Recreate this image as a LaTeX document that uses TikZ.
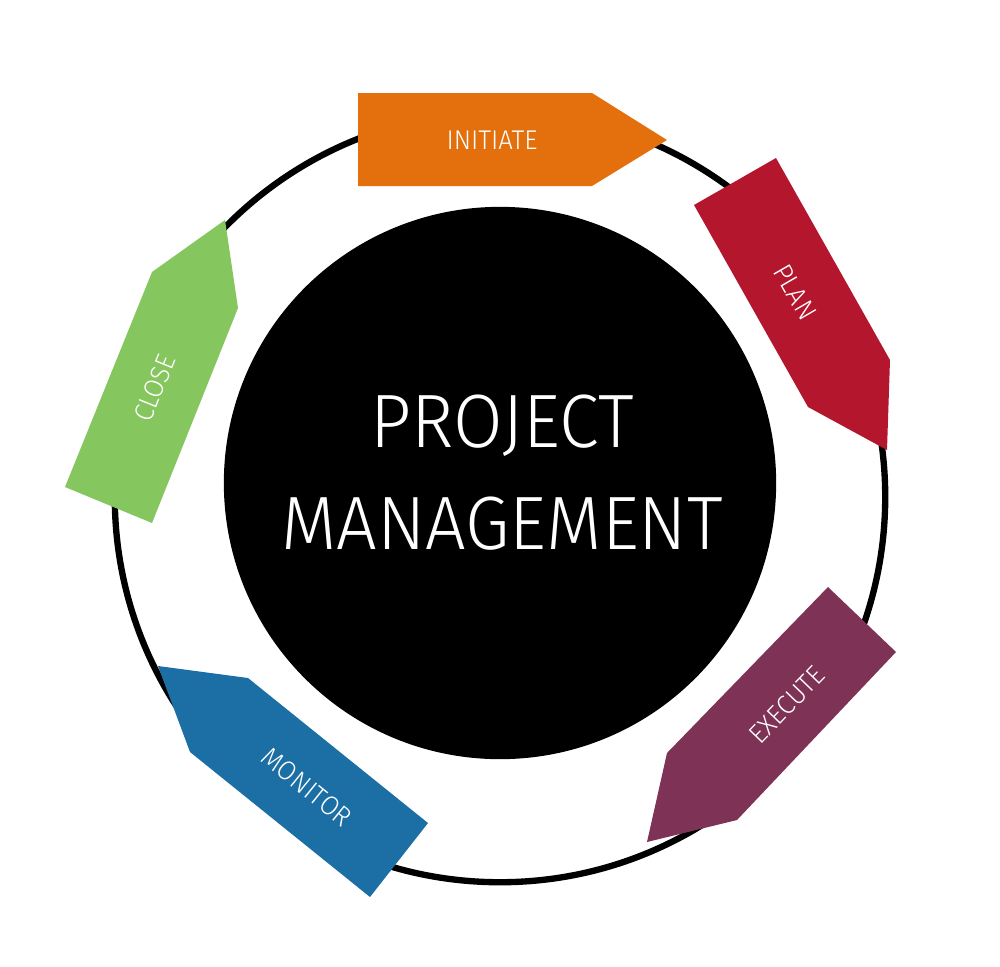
\documentclass[tikz,border=0pt]{standalone}
\usepackage{fontspec}
\setmainfont{Fira Sans}[UprightFont=* Light, FakeStretch=0.95]
\usetikzlibrary{positioning}
\definecolor{initorange}{HTML}{E3700D}
\definecolor{planred}{HTML}{B3162D}
\definecolor{execpurple}{HTML}{7E3255}
\definecolor{monblue}{HTML}{1B6FA4}
\definecolor{closegreen}{HTML}{85C65E}
\tikzset{font=\small}

\begin{document}
\begin{tikzpicture}[x=0.01cm, y=-0.01cm]
	\useasboundingbox (0,0) rectangle (1000,966);
	\begin{scope}
		\tikzstyle{every node}=[align=center, inner sep=1pt]
		\tikzset{phase/.style={text=white, font=\fontsize{7.7}{9}\selectfont}}

		\draw [line width=1.8pt] (500,497) circle [radius=3.85cm];
		\node [circle, fill=black, minimum size=5.52cm, inner sep=0pt] (core) at (500,483) {};
		\node [text=white, font=\fontsize{21.5}{29}\selectfont] (title) at (502,473) {PROJECT\\MANAGEMENT};

		\fill [initorange] (358,93) -- (592,93) -- (667,140) -- (592,186) -- (358,186) -- cycle;
		\node [phase] (initiate) at (492,140) {INITIATE};

		\fill [planred] (776,158) -- (694,205) -- (808,407) -- (887,450) -- (890,360) -- cycle;
		\node [phase, rotate=-60] (plan) at (795,292) {PLAN};

		\fill [execpurple] (828,587) -- (896,652) -- (737,820) -- (647,842) -- (667,753) -- cycle;
		\node [phase, rotate=46] (execute) at (787,705) {EXECUTE};

		\fill [monblue] (158,666) -- (248,678) -- (428,823) -- (370,897) -- (190,752) -- cycle;
		\node [phase, rotate=-39] (monitor) at (307,787) {MONITOR};

		\fill [closegreen] (225,220) -- (238,308) -- (152,523) -- (65,487) -- (152,272) -- cycle;
		\node [phase, rotate=68] (close) at (155,388) {CLOSE};
	\end{scope}
\end{tikzpicture}
\end{document}
